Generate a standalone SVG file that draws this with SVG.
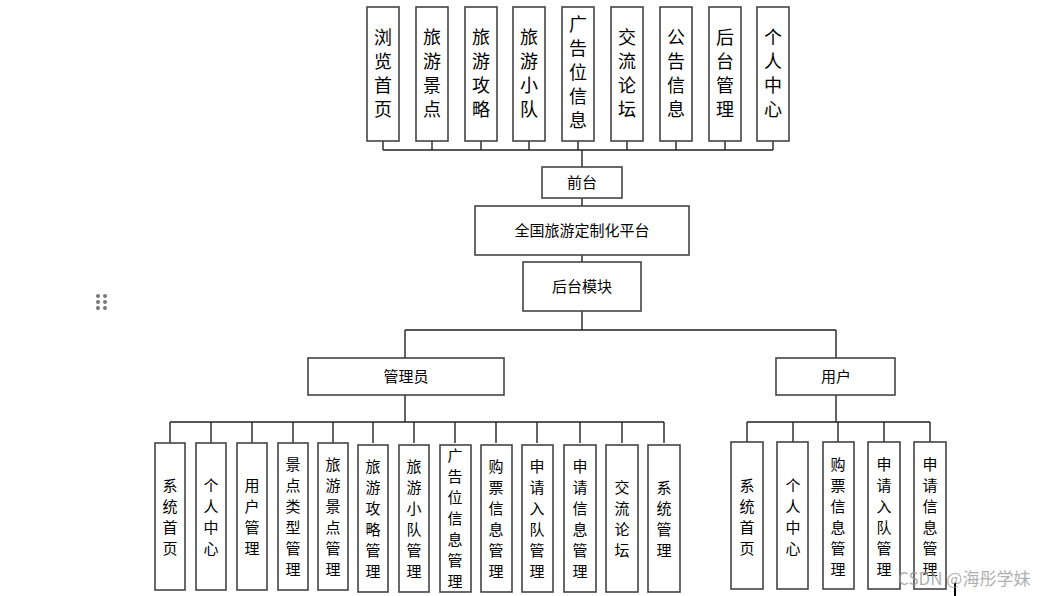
<svg xmlns="http://www.w3.org/2000/svg" width="1050" height="596" viewBox="0 0 1050 596">
<style>
.b{fill:#fff;stroke:#444;stroke-width:1.6}
.t{font-family:"Noto Sans CJK SC",sans-serif;fill:#000;text-anchor:middle}
.top{font-size:18px}
.bot{font-size:15px}
.h{font-size:15px}
.c{fill:none;stroke:#222;stroke-width:1.4}
</style>
<rect width="1050" height="596" fill="#fff"/>
<g id="connectors">
<path class="c" d="M383 141V150M432 141V150M481 141V150M529 141V150M578 141V150M627 141V150M676 141V150M725 141V150M773 141V150M383 150H773"/>
<path class="c" d="M582 150V167" stroke-width="2.4"/>
<path class="c" d="M582 198V206M582 255V262M582 311V330M405 330H836M405 330V358M836 330V358"/>
<path class="c" d="M405 395V422M170 422H664M170 422V443M211 422V443M252 422V443M293 422V443M333 422V443M373 422V443M414 422V443M455 422V443M496 422V443M537 422V443M580 422V443M622 422V443M664 422V443"/>
<path class="c" d="M836 395V422M747 422H930M747 422V442M793 422V442M838 422V442M884 422V442M930 422V442"/>
</g>
<g id="top-nodes">
<g id="n1"><rect class="b" x="367" y="7" width="32" height="134"/><text class="t top" x="383" y="44"><tspan x="383">浏</tspan><tspan x="383" dy="24">览</tspan><tspan x="383" dy="24">首</tspan><tspan x="383" dy="24">页</tspan></text></g>
<g id="n2"><rect class="b" x="416" y="7" width="32" height="134"/><text class="t top" x="432" y="44"><tspan x="432">旅</tspan><tspan x="432" dy="24">游</tspan><tspan x="432" dy="24">景</tspan><tspan x="432" dy="24">点</tspan></text></g>
<g id="n3"><rect class="b" x="465" y="7" width="32" height="134"/><text class="t top" x="481" y="44"><tspan x="481">旅</tspan><tspan x="481" dy="24">游</tspan><tspan x="481" dy="24">攻</tspan><tspan x="481" dy="24">略</tspan></text></g>
<g id="n4"><rect class="b" x="513" y="7" width="32" height="134"/><text class="t top" x="529" y="44"><tspan x="529">旅</tspan><tspan x="529" dy="24">游</tspan><tspan x="529" dy="24">小</tspan><tspan x="529" dy="24">队</tspan></text></g>
<g id="n5"><rect class="b" x="562" y="7" width="32" height="134"/><text class="t top" x="578" y="31"><tspan x="578">广</tspan><tspan x="578" dy="24">告</tspan><tspan x="578" dy="24">位</tspan><tspan x="578" dy="24">信</tspan><tspan x="578" dy="24">息</tspan></text></g>
<g id="n6"><rect class="b" x="611" y="7" width="32" height="134"/><text class="t top" x="627" y="44"><tspan x="627">交</tspan><tspan x="627" dy="24">流</tspan><tspan x="627" dy="24">论</tspan><tspan x="627" dy="24">坛</tspan></text></g>
<g id="n7"><rect class="b" x="660" y="7" width="32" height="134"/><text class="t top" x="676" y="44"><tspan x="676">公</tspan><tspan x="676" dy="24">告</tspan><tspan x="676" dy="24">信</tspan><tspan x="676" dy="24">息</tspan></text></g>
<g id="n8"><rect class="b" x="709" y="7" width="32" height="134"/><text class="t top" x="725" y="44"><tspan x="725">后</tspan><tspan x="725" dy="24">台</tspan><tspan x="725" dy="24">管</tspan><tspan x="725" dy="24">理</tspan></text></g>
<g id="n9"><rect class="b" x="757" y="7" width="32" height="134"/><text class="t top" x="773" y="44"><tspan x="773">个</tspan><tspan x="773" dy="24">人</tspan><tspan x="773" dy="24">中</tspan><tspan x="773" dy="24">心</tspan></text></g>
</g>
<g id="qiantai"><rect class="b" x="542" y="167" width="80" height="31"/><text class="t h" x="582" y="188">前台</text></g>
<g id="platform"><rect class="b" x="475" y="206" width="214" height="49"/><text class="t h" x="582" y="236">全国旅游定制化平台</text></g>
<g id="houtai"><rect class="b" x="523" y="262" width="118" height="49"/><text class="t h" x="582" y="292">后台模块</text></g>
<g id="admin"><rect class="b" x="308" y="358" width="196" height="37"/><text class="t h" x="406" y="382">管理员</text></g>
<g id="user"><rect class="b" x="776" y="358" width="119" height="37"/><text class="t h" x="836" y="382">用户</text></g>
<g id="admin-children">
<g id="a1"><rect class="b" x="155" y="443" width="30" height="147"/><text class="t bot" x="170" y="491"><tspan x="170">系</tspan><tspan x="170" dy="21">统</tspan><tspan x="170" dy="21">首</tspan><tspan x="170" dy="21">页</tspan></text></g>
<g id="a2"><rect class="b" x="196" y="443" width="30" height="147"/><text class="t bot" x="211" y="491"><tspan x="211">个</tspan><tspan x="211" dy="21">人</tspan><tspan x="211" dy="21">中</tspan><tspan x="211" dy="21">心</tspan></text></g>
<g id="a3"><rect class="b" x="237" y="443" width="30" height="147"/><text class="t bot" x="252" y="491"><tspan x="252">用</tspan><tspan x="252" dy="21">户</tspan><tspan x="252" dy="21">管</tspan><tspan x="252" dy="21">理</tspan></text></g>
<g id="a4"><rect class="b" x="278" y="443" width="30" height="147"/><text class="t bot" x="293" y="470"><tspan x="293">景</tspan><tspan x="293" dy="21">点</tspan><tspan x="293" dy="21">类</tspan><tspan x="293" dy="21">型</tspan><tspan x="293" dy="21">管</tspan><tspan x="293" dy="21">理</tspan></text></g>
<g id="a5"><rect class="b" x="318" y="443" width="30" height="147"/><text class="t bot" x="333" y="470"><tspan x="333">旅</tspan><tspan x="333" dy="21">游</tspan><tspan x="333" dy="21">景</tspan><tspan x="333" dy="21">点</tspan><tspan x="333" dy="21">管</tspan><tspan x="333" dy="21">理</tspan></text></g>
<g id="a6"><rect class="b" x="358" y="445" width="30" height="147"/><text class="t bot" x="373" y="472"><tspan x="373">旅</tspan><tspan x="373" dy="21">游</tspan><tspan x="373" dy="21">攻</tspan><tspan x="373" dy="21">略</tspan><tspan x="373" dy="21">管</tspan><tspan x="373" dy="21">理</tspan></text></g>
<g id="a7"><rect class="b" x="399" y="445" width="30" height="147"/><text class="t bot" x="414" y="472"><tspan x="414">旅</tspan><tspan x="414" dy="21">游</tspan><tspan x="414" dy="21">小</tspan><tspan x="414" dy="21">队</tspan><tspan x="414" dy="21">管</tspan><tspan x="414" dy="21">理</tspan></text></g>
<g id="a8"><rect class="b" x="440" y="445" width="31" height="147"/><text class="t bot" x="455" y="461"><tspan x="455">广</tspan><tspan x="455" dy="21">告</tspan><tspan x="455" dy="21">位</tspan><tspan x="455" dy="21">信</tspan><tspan x="455" dy="21">息</tspan><tspan x="455" dy="21">管</tspan><tspan x="455" dy="21">理</tspan></text></g>
<g id="a9"><rect class="b" x="481" y="445" width="31" height="147"/><text class="t bot" x="496" y="472"><tspan x="496">购</tspan><tspan x="496" dy="21">票</tspan><tspan x="496" dy="21">信</tspan><tspan x="496" dy="21">息</tspan><tspan x="496" dy="21">管</tspan><tspan x="496" dy="21">理</tspan></text></g>
<g id="a10"><rect class="b" x="522" y="445" width="31" height="147"/><text class="t bot" x="537" y="472"><tspan x="537">申</tspan><tspan x="537" dy="21">请</tspan><tspan x="537" dy="21">入</tspan><tspan x="537" dy="21">队</tspan><tspan x="537" dy="21">管</tspan><tspan x="537" dy="21">理</tspan></text></g>
<g id="a11"><rect class="b" x="564" y="445" width="32" height="147"/><text class="t bot" x="580" y="472"><tspan x="580">申</tspan><tspan x="580" dy="21">请</tspan><tspan x="580" dy="21">信</tspan><tspan x="580" dy="21">息</tspan><tspan x="580" dy="21">管</tspan><tspan x="580" dy="21">理</tspan></text></g>
<g id="a12"><rect class="b" x="606" y="445" width="32" height="147"/><text class="t bot" x="622" y="493"><tspan x="622">交</tspan><tspan x="622" dy="21">流</tspan><tspan x="622" dy="21">论</tspan><tspan x="622" dy="21">坛</tspan></text></g>
<g id="a13"><rect class="b" x="648" y="445" width="32" height="147"/><text class="t bot" x="664" y="493"><tspan x="664">系</tspan><tspan x="664" dy="21">统</tspan><tspan x="664" dy="21">管</tspan><tspan x="664" dy="21">理</tspan></text></g>
</g>
<g id="user-children">
<g id="u1"><rect class="b" x="731" y="442" width="32" height="147"/><text class="t bot" x="747" y="491"><tspan x="747">系</tspan><tspan x="747" dy="21">统</tspan><tspan x="747" dy="21">首</tspan><tspan x="747" dy="21">页</tspan></text></g>
<g id="u2"><rect class="b" x="777" y="442" width="31" height="147"/><text class="t bot" x="793" y="491"><tspan x="793">个</tspan><tspan x="793" dy="21">人</tspan><tspan x="793" dy="21">中</tspan><tspan x="793" dy="21">心</tspan></text></g>
<g id="u3"><rect class="b" x="823" y="442" width="31" height="147"/><text class="t bot" x="838" y="470"><tspan x="838">购</tspan><tspan x="838" dy="21">票</tspan><tspan x="838" dy="21">信</tspan><tspan x="838" dy="21">息</tspan><tspan x="838" dy="21">管</tspan><tspan x="838" dy="21">理</tspan></text></g>
<g id="u4"><rect class="b" x="868" y="442" width="32" height="147"/><text class="t bot" x="884" y="470"><tspan x="884">申</tspan><tspan x="884" dy="21">请</tspan><tspan x="884" dy="21">入</tspan><tspan x="884" dy="21">队</tspan><tspan x="884" dy="21">管</tspan><tspan x="884" dy="21">理</tspan></text></g>
<g id="u5"><rect class="b" x="914" y="442" width="32" height="147"/><text class="t bot" x="930" y="470"><tspan x="930">申</tspan><tspan x="930" dy="21">请</tspan><tspan x="930" dy="21">信</tspan><tspan x="930" dy="21">息</tspan><tspan x="930" dy="21">管</tspan><tspan x="930" dy="21">理</tspan></text></g>
</g>
<g fill="#777"><circle cx="98" cy="296" r="2"/><circle cx="105" cy="296" r="2"/><circle cx="98" cy="302" r="2"/><circle cx="105" cy="302" r="2"/><circle cx="98" cy="308" r="2"/><circle cx="105" cy="308" r="2"/></g>
<path d="M955 583V596" stroke="#000" stroke-width="2"/>
<text x="898" y="585" font-family="'Noto Sans CJK SC',sans-serif" font-size="17" fill="#999" fill-opacity="0.8">CSDN @海彤学妹</text>
</svg>
